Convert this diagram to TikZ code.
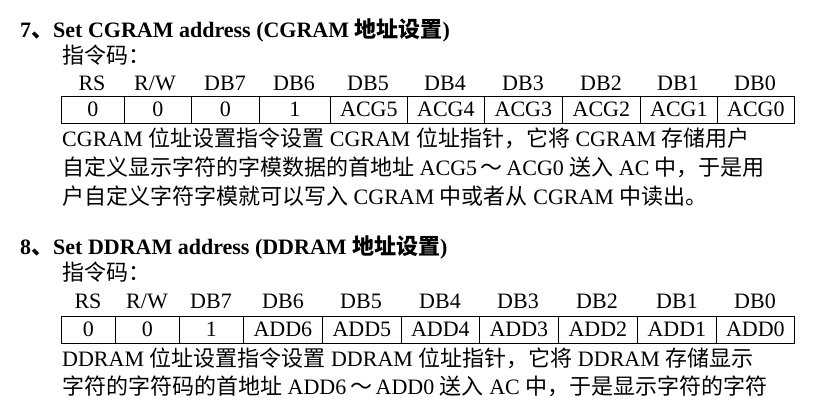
\documentclass[tikz,border=0pt]{standalone}
\usepackage{fontspec}
\setmainfont{Liberation Serif}
\newfontfamily\cjk{Noto Sans CJK SC}
\begin{document}
\begin{tikzpicture}[x=1pt,y=-1pt,
  txt/.style={anchor=base west,inner sep=0pt,font=\fontsize{22}{24}\selectfont},
  ttl/.style={anchor=base west,inner sep=0pt,font=\fontsize{22}{24}\selectfont\bfseries},
  hd/.style={anchor=base,inner sep=0pt,font=\fontsize{22}{24}\selectfont},
  cell/.style={draw,line width=0.8pt,inner sep=0pt,anchor=north west}]
\useasboundingbox (0,0) rectangle (815,416);
\node[ttl] (t1) at (20,37) {7{\cjk 、}Set CGRAM address (CGRAM {\cjk 地址设置})};
\node[txt] (c1) at (62,63) {\cjk 指令码：};
\foreach \n/\x in {RS/92,{R/W}/155,DB7/225,DB6/294,DB5/368,DB4/445,DB3/523,DB2/601,DB1/678,DB0/755}
  \node[hd] at (\x,90) {\n};
\foreach \a/\b [count=\i] in {61/124,124/191,191/259,259/330,330/407,407/484,484/562,562/640,640/717,717/794}
  \node[cell,minimum width=\b-\a,minimum height=27] (a\i) at (\a,96) {};
\foreach \t [count=\i] in {0,0,0,1,ACG5,ACG4,ACG3,ACG2,ACG1,ACG0}
  \node[hd] at ([yshift=-7]a\i.center) {\t};
\node[txt] (p1) at (62,146) {CGRAM {\cjk 位址设置指令设置} CGRAM {\cjk 位址指针，它将} CGRAM {\cjk 存储用户}};
\node[txt] (p2) at (62,175) {{\cjk 自定义显示字符的字模数据的首地址} ACG5\,{\cjk\char"FF5E}\,ACG0 {\cjk 送入} AC {\cjk 中，于是用}};
\node[txt] (p3) at (62,204) {{\cjk 户自定义字符字模就可以写入} CGRAM {\cjk 中或者从} CGRAM {\cjk 中读出。}};
\node[ttl] (t2) at (20,254) {8{\cjk 、}Set DDRAM address (DDRAM {\cjk 地址设置})};
\node[txt] (c2) at (62,280) {\cjk 指令码：};
\foreach \n/\x in {RS/88,{R/W}/147,DB7/211,DB6/283,DB5/361,DB4/440,DB3/518,DB2/597,DB1/677,DB0/755}
  \node[hd] at (\x,308) {\n};
\foreach \a/\b [count=\i] in {61/115,115/179,179/243,243/322,322/401,401/479,479/558,558/637,637/716,716/794}
  \node[cell,minimum width=\b-\a,minimum height=27] (b\i) at (\a,316) {};
\foreach \t [count=\i] in {0,0,1,ADD6,ADD5,ADD4,ADD3,ADD2,ADD1,ADD0}
  \node[hd] at ([yshift=-7]b\i.center) {\t};
\node[txt] (q1) at (62,366) {DDRAM {\cjk 位址设置指令设置} DDRAM {\cjk 位址指针，它将} DDRAM {\cjk 存储显示}};
\node[txt] (q2) at (62,394) {{\cjk 字符的字符码的首地址} ADD6\,{\cjk\char"FF5E}\,ADD0 {\cjk 送入} AC {\cjk 中，于是显示字符的字符}};
\end{tikzpicture}
\end{document}
